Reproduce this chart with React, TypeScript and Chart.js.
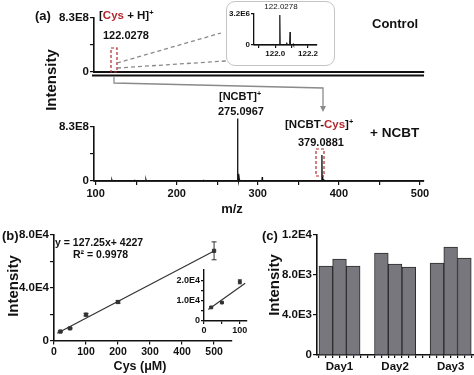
import React, { useEffect, useRef } from 'react';
import { Chart, registerables } from 'chart.js';

Chart.register(...registerables);

const FONT = "'Liberation Sans', Arial, sans-serif";
const INK = '#111111';
const RED = '#b3282d';
const GRAY = '#8a8a8a';
Chart.defaults.font.family = FONT;

// ---------- Panel (a): mass spectra ----------
const controlMz = [122.0278];
const controlIntensity = [3.2e6];
const ncbtMz = [120.1, 133.0, 148.0, 162.1, 190.0, 217.1, 233.0, 275.0967, 276.1, 277.1, 291.0, 305.5, 379.0881, 380.1, 381.1, 392.1];
const ncbtIntensity = [1.2e7, 1.5e7, 1.8e7, 1.5e7, 1.2e7, 1.5e7, 1.8e7, 9.6e8, 1.1e8, 3.5e7, 1.2e7, 6.0e7, 4.0e8, 9.0e7, 3.0e7, 1.2e7];
const spectrumYTicks = [0, 4.15e8, 8.3e8];
const spectrumYLabels = ['0', '', '8.3E8'];
const spectrumXTicks = [100, 150, 200, 250, 300, 350, 400, 450, 500];
const spectrumXLabels = ['100', '', '200', '', '300', '', '400', '', '500'];

const insetMz = [122.0278, 122.07, 122.09, 122.11];
const insetIntensity = [3.1e6, 2.5e5, 1.35e6, 8.0e4];
const insetXTicks = [121.9, 122.0, 122.1, 122.2];
const insetXLabels = ['', '122.0', '', '122.2'];
const insetYTicks = [0, 3.2e6];
const insetYLabels = ['0', '3.2E6'];

// ---------- Panel (b): calibration ----------
const cysConc = [20, 50, 100, 200, 500];
const cysIntensity = [6800, 9200, 19600, 29200, 68000];
const cysError = [300, 400, 1000, 900, 6800];
const fitSlope = 127.25;
const fitIntercept = 4227;
const fitRangeMain = [10, 500];
const fitRangeInset = [12, 115];
const bXTicks = [0, 100, 200, 300, 400, 500];
const bXLabels = ['0', '100', '200', '300', '400', '500'];
const bYTicks = [0, 20000, 40000, 60000, 80000];
const bYLabels = ['0', '', '4.0E4', '', '8.0E4'];
const bInsetXTicks = [0, 50, 100];
const bInsetXLabels = ['0', '', '100'];
const bInsetYTicks = [0, 5000, 10000, 15000, 20000];
const bInsetYLabels = ['0', '', '1.0E4', '', '2.0E4'];

// ---------- Panel (c): day-to-day ----------
const days = ['Day1', 'Day2', 'Day3'];
const rep1 = [8900, 10200, 9200];
const rep2 = [9600, 9100, 10800];
const rep3 = [8900, 8800, 9700];
const cYTicks = [0, 4000, 8000, 12000];
const cYLabels = ['0', '4.0E3', '8.0E3', '1.2E4'];

function spikes(mz: number[], inten: number[], lo: number, hi: number, w: number) {
  const pts: { x: number; y: number }[] = [{ x: lo, y: 0 }];
  mz.forEach((m, i) => {
    pts.push({ x: m - w, y: 0 }, { x: m, y: inten[i] }, { x: m + w, y: 0 });
  });
  pts.push({ x: hi, y: 0 });
  return pts;
}

interface AxisOpt {
  pos: 'left' | 'bottom';
  min: number;
  max: number;
  ticks: number[];
  labels: string[];
  size: number;
  fixed: number;
  tickLen?: number;
  pad?: number;
  showLabels?: boolean;
  drawTicks?: boolean;
  borderWidth?: number;
}

function axis(o: AxisOpt) {
  const isY = o.pos === 'left';
  return {
    type: 'linear',
    position: o.pos,
    min: o.min,
    max: o.max,
    offset: false,
    afterBuildTicks: (s: any) => {
      s.ticks = o.ticks.map((v) => ({ value: v }));
    },
    afterFit: (s: any) => {
      if (isY) {
        s.width = o.fixed;
        s.paddingTop = 0;
        s.paddingBottom = 0;
      } else {
        s.height = o.fixed;
        s.paddingLeft = 0;
        s.paddingRight = 0;
      }
    },
    grid: {
      display: true,
      offset: false,
      drawOnChartArea: false,
      drawTicks: o.drawTicks !== false,
      tickLength: o.tickLen ?? 4,
      color: INK,
      lineWidth: 1.2,
    },
    border: { display: true, color: INK, width: o.borderWidth ?? 1.6 },
    ticks: {
      display: o.showLabels !== false,
      color: INK,
      font: { family: FONT, size: o.size, weight: 'bold' },
      padding: o.pad ?? 1,
      autoSkip: false,
      maxRotation: 0,
      minRotation: 0,
      callback: (_v: any, i: number) => o.labels[i] ?? '',
    },
  };
}

function baseOptions(top: number, right: number, scales: any, plugins: any = {}) {
  return {
    responsive: false,
    maintainAspectRatio: false,
    animation: false,
    devicePixelRatio: 1,
    events: [],
    layout: { padding: { left: 0, bottom: 0, top, right } },
    plugins: { legend: { display: false }, tooltip: { enabled: false }, title: { display: false }, ...plugins },
    scales,
  };
}

const errorBarPlugin = {
  id: 'errbars',
  afterDatasetsDraw(chart: any, _args: any, opts: any) {
    if (!opts || !opts.xs) return;
    const ctx = chart.ctx;
    const xs = chart.scales.x;
    const ys = chart.scales.y;
    ctx.save();
    ctx.strokeStyle = '#333';
    ctx.lineWidth = 1;
    opts.xs.forEach((xv: number, i: number) => {
      const e = opts.errs[i];
      const yv = opts.ys[i];
      const px = xs.getPixelForValue(xv);
      const pt = ys.getPixelForValue(yv + e);
      const pb = ys.getPixelForValue(yv - e);
      const cap = opts.cap ?? 2.5;
      ctx.beginPath();
      ctx.moveTo(px, pt);
      ctx.lineTo(px, pb);
      ctx.moveTo(px - cap, pt);
      ctx.lineTo(px + cap, pt);
      ctx.moveTo(px - cap, pb);
      ctx.lineTo(px + cap, pb);
      ctx.stroke();
    });
    ctx.restore();
  },
};

function ChartBox({ left, top, width, height, make }: { left: number; top: number; width: number; height: number; make: () => any }) {
  const ref = useRef<HTMLCanvasElement>(null);
  useEffect(() => {
    const c = new Chart(ref.current as HTMLCanvasElement, make());
    return () => c.destroy();
  }, []);
  return (
    <canvas
      ref={ref}
      width={width}
      height={height}
      style={{ position: 'absolute', left, top, width, height }}
    />
  );
}

// ---------- Chart configs ----------
const controlConfig = () => ({
  type: 'scatter',
  data: {
    datasets: [
      {
        data: spikes(controlMz, controlIntensity, 98, 505, 0.3),
        showLine: true,
        borderColor: INK,
        borderWidth: 1.3,
        pointRadius: 0,
        clip: false,
      },
    ],
  },
  options: baseOptions(18, 50, {
    x: axis({ pos: 'bottom', min: 98, max: 505, ticks: spectrumXTicks, labels: [], size: 11, fixed: 18, showLabels: false, drawTicks: false, borderWidth: 2 }),
    y: axis({ pos: 'left', min: 0, max: 8.3e8, ticks: spectrumYTicks, labels: spectrumYLabels, size: 11.5, fixed: 54 }),
  }),
});

const ncbtConfig = () => ({
  type: 'scatter',
  data: {
    datasets: [
      {
        data: spikes(ncbtMz, ncbtIntensity, 98, 505, 0.3),
        showLine: true,
        borderColor: INK,
        borderWidth: 1.3,
        pointRadius: 0,
        clip: false,
      },
    ],
  },
  options: baseOptions(27, 50, {
    x: axis({ pos: 'bottom', min: 98, max: 505, ticks: spectrumXTicks, labels: spectrumXLabels, size: 11, fixed: 24, pad: 2 }),
    y: axis({ pos: 'left', min: 0, max: 8.3e8, ticks: spectrumYTicks, labels: spectrumYLabels, size: 11.5, fixed: 54 }),
  }),
});

const insetAConfig = () => ({
  type: 'scatter',
  data: {
    datasets: [
      {
        data: spikes(insetMz, insetIntensity, 121.87, 122.255, 0.002),
        showLine: true,
        borderColor: INK,
        borderWidth: 1.2,
        pointRadius: 0,
        clip: false,
      },
    ],
  },
  options: baseOptions(11, 11, {
    x: axis({ pos: 'bottom', min: 121.87, max: 122.255, ticks: insetXTicks, labels: insetXLabels, size: 8, fixed: 19, tickLen: 3, borderWidth: 1.3 }),
    y: axis({ pos: 'left', min: 0, max: 3.2e6, ticks: insetYTicks, labels: insetYLabels, size: 8, fixed: 26, tickLen: 3, borderWidth: 1.3 }),
  }),
});

const fitPoints = (range: number[]) => range.map((x) => ({ x, y: fitSlope * x + fitIntercept }));

const calibConfig = () => ({
  type: 'scatter',
  data: {
    datasets: [
      {
        data: fitPoints(fitRangeMain),
        showLine: true,
        borderColor: '#333',
        borderWidth: 1.2,
        pointRadius: 0,
      },
      {
        data: cysConc.map((x, i) => ({ x, y: cysIntensity[i] })),
        showLine: false,
        pointStyle: 'rect',
        pointRadius: 2.3,
        backgroundColor: '#333',
        borderColor: '#333',
      },
    ],
  },
  plugins: [errorBarPlugin],
  options: baseOptions(
    10,
    8,
    {
      x: axis({ pos: 'bottom', min: 0, max: 556, ticks: bXTicks, labels: bXLabels, size: 10.5, fixed: 19.5, pad: 1 }),
      y: axis({ pos: 'left', min: 0, max: 80000, ticks: bYTicks, labels: bYLabels, size: 11.5, fixed: 40 }),
    },
    { errbars: { xs: cysConc, ys: cysIntensity, errs: cysError, cap: 2.5 } }
  ),
});

const calibInsetConfig = () => {
  const n = cysConc.filter((c) => c <= 100).length;
  return {
    type: 'scatter',
    data: {
      datasets: [
        {
          data: fitPoints(fitRangeInset),
          showLine: true,
          borderColor: '#333',
          borderWidth: 1.2,
          pointRadius: 0,
          clip: false,
        },
        {
          data: cysConc.slice(0, n).map((x, i) => ({ x, y: cysIntensity[i] })),
          showLine: false,
          pointStyle: 'rect',
          pointRadius: 2,
          backgroundColor: '#333',
          borderColor: '#333',
        },
      ],
    },
    plugins: [errorBarPlugin],
    options: baseOptions(
      8,
      2,
      {
        x: axis({ pos: 'bottom', min: 0, max: 120, ticks: bInsetXTicks, labels: bInsetXLabels, size: 9, fixed: 17, tickLen: 3, borderWidth: 1.4 }),
        y: axis({ pos: 'left', min: 0, max: 25500, ticks: bInsetYTicks, labels: bInsetYLabels, size: 9, fixed: 34, tickLen: 3, borderWidth: 1.4 }),
      },
      { errbars: { xs: cysConc.slice(0, n), ys: cysIntensity.slice(0, n), errs: cysError.slice(0, n), cap: 2 } }
    ),
  };
};

const cMinorTicks: number[] = [];
for (let k = 0; k <= 22; k++) cMinorTicks.push(0.625 + k * 0.125);

const barStyle = {
  backgroundColor: '#77777d',
  borderColor: '#2b2b2b',
  borderWidth: 1,
  barThickness: 'flex',
  categoryPercentage: 0.74,
  barPercentage: 1.0,
};

const daysConfig = () => ({
  type: 'bar',
  data: {
    datasets: [rep1, rep2, rep3].map((rep) => ({
      ...barStyle,
      data: rep.map((y, i) => ({ x: i + 1, y })),
    })),
  },
  options: baseOptions(10, 0, {
    x: axis({
      pos: 'bottom',
      min: 0.595,
      max: 3.42,
      ticks: cMinorTicks,
      labels: cMinorTicks.map((v) => (Number.isInteger(v) ? days[v - 1] : '')),
      size: 11.5,
      fixed: 20,
      tickLen: 3,
      pad: 2,
    }),
    y: axis({ pos: 'left', min: 0, max: 12000, ticks: cYTicks, labels: cYLabels, size: 11.5, fixed: 47 }),
  }),
});

// ---------- Text helper ----------
function T({ x, y, size, children, anchor = 'left', bold = true, rotate, color }: any) {
  const tx = anchor === 'center' ? '-50%' : anchor === 'right' ? '-100%' : '0';
  return (
    <div
      style={{
        position: 'absolute',
        left: x,
        top: y,
        transform: `translate(${tx}, -50%)${rotate ? ` rotate(${rotate}deg)` : ''}`,
        fontFamily: FONT,
        fontWeight: bold ? 700 : 400,
        fontSize: size,
        lineHeight: 1,
        whiteSpace: 'nowrap',
        color: color || INK,
      }}
    >
      {children}
    </div>
  );
}

const Sup = ({ children }: any) => (
  <span style={{ fontSize: '0.65em', position: 'relative', top: '-0.5em' }}>{children}</span>
);

export default function App() {
  return (
    <div style={{ position: 'absolute', left: 0, top: 0, width: 474, height: 375, overflow: 'hidden', background: '#fff' }}>
      <ChartBox left={40} top={0} width={434} height={90} make={controlConfig} />
      <ChartBox left={40} top={100} width={434} height={105} make={ncbtConfig} />
      <div
        style={{
          position: 'absolute',
          left: 226,
          top: 1,
          width: 107,
          height: 63,
          border: '1px solid #c4c4c4',
          borderRadius: 9,
          background: '#fff',
        }}
      />
      <ChartBox left={228} top={3} width={100} height={61} make={insetAConfig} />
      <ChartBox left={14} top={225} width={226} height={135} make={calibConfig} />
      <ChartBox left={170} top={262} width={82} height={76} make={calibInsetConfig} />
      <ChartBox left={270} top={225} width={204} height={150} make={daysConfig} />

      <svg width={474} height={375} style={{ position: 'absolute', left: 0, top: 0, pointerEvents: 'none' }}>
        <line x1={92} y1={75.5} x2={424} y2={75.5} stroke={INK} strokeWidth={2} />
        <rect x={111} y={48} width={6} height={24} fill="none" stroke={RED} strokeWidth={1.2} strokeDasharray="3 2" />
        <line x1={117} y1={63} x2={221} y2={33} stroke={GRAY} strokeWidth={1.3} strokeDasharray="4 3" />
        <line x1={117} y1={68} x2={226} y2={61} stroke={GRAY} strokeWidth={1.3} strokeDasharray="4 3" />
        <polyline points="114,77 114,83 323,88 323,107" fill="none" stroke={GRAY} strokeWidth={1.3} />
        <polygon points="320,106 326,106 323,112" fill={GRAY} />
        <rect x={316} y={149} width={8} height={27} fill="none" stroke={RED} strokeWidth={1.2} strokeDasharray="3 2" />
      </svg>

      {/* Panel (a) */}
      <T x={35} y={15} size={13}>(a)</T>
      <T x={50} y={80} size={15} anchor="center" rotate={-90}>Intensity</T>
      <T x={99} y={16} size={11.5}>
        [<span style={{ color: RED }}>Cys</span> + H]<Sup>+</Sup>
      </T>
      <T x={103} y={35} size={11}>122.0278</T>
      <T x={372} y={23} size={13}>Control</T>
      <T x={281} y={7} size={8} anchor="center" bold={false}>122.0278</T>
      <T x={219} y={97} size={11}>
        [NCBT]<Sup>+</Sup>
      </T>
      <T x={218} y={111} size={11}>275.0967</T>
      <T x={285} y={125} size={11.5}>
        [NCBT-<span style={{ color: RED }}>Cys</span>]<Sup>+</Sup>
      </T>
      <T x={298} y={142} size={11}>379.0881</T>
      <T x={370} y={133} size={13.5}>+ NCBT</T>
      <T x={232} y={208} size={13} anchor="center">m/z</T>

      {/* Panel (b) */}
      <T x={2} y={235} size={13}>(b)</T>
      <T x={12} y={286} size={15} anchor="center" rotate={-90}>Intensity</T>
      <T x={55} y={242} size={10.5}>y = 127.25x+ 4227</T>
      <T x={73} y={254} size={10.5}>R² = 0.9978</T>
      <T x={140} y={366} size={12.5} anchor="center">Cys (μM)</T>

      {/* Panel (c) */}
      <T x={262} y={235} size={13}>(c)</T>
      <T x={273} y={285} size={15} anchor="center" rotate={-90}>Intensity</T>
    </div>
  );
}
